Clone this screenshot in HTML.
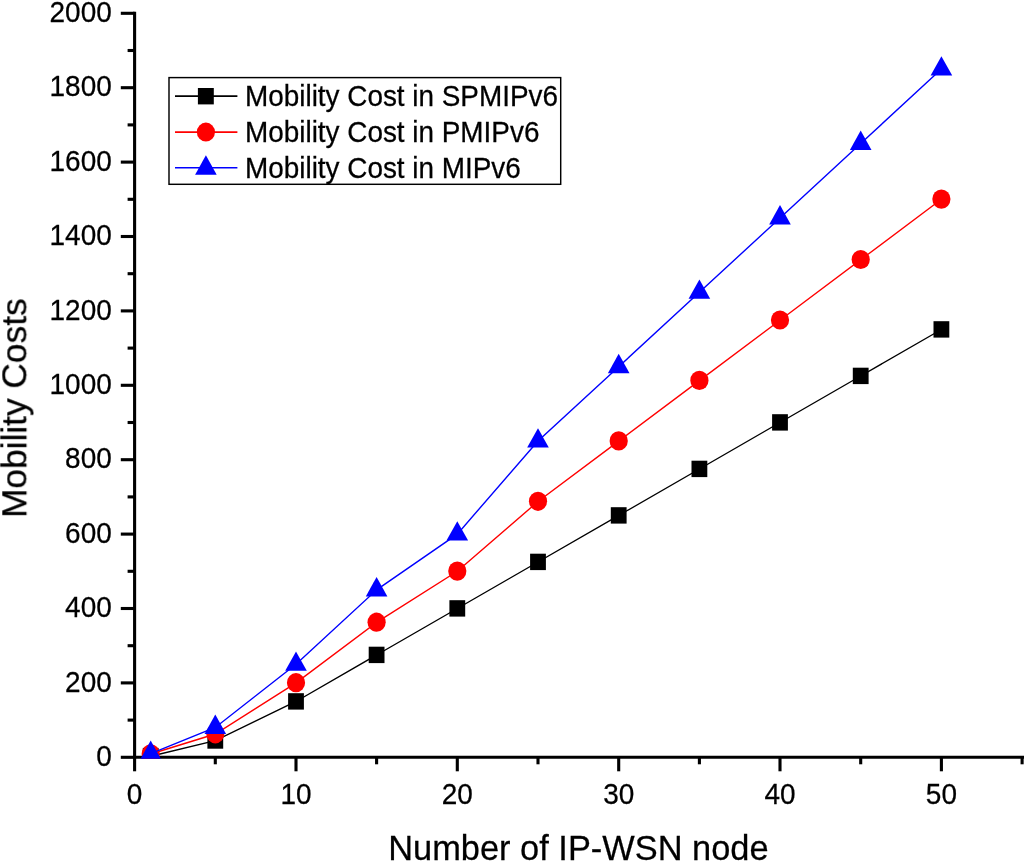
<!DOCTYPE html>
<html lang="en"><head><meta charset="utf-8"><title>Mobility Costs</title>
<style>html,body{margin:0;padding:0;background:#fff;overflow:hidden}svg{display:block}text{font-family:"Liberation Sans",Arial,sans-serif;fill:#000;stroke:#000;stroke-width:0.25px}</style></head><body>
<svg width="1024" height="861" viewBox="0 0 1024 861">
<defs><clipPath id="plot"><rect x="133.05" y="0" width="900" height="758.85"/></clipPath><filter id="soft" x="-2%" y="-2%" width="104%" height="104%"><feGaussianBlur stdDeviation="0.45"/></filter></defs>
<rect width="1024" height="861" fill="#fff"/>
<g filter="url(#soft)">
<g stroke="#000" stroke-width="3.1" fill="none">
<line x1="134.6" y1="11.7" x2="134.6" y2="758.8"/>
<line x1="133.0" y1="757.3" x2="1024" y2="757.3"/>
<line x1="120.8" y1="757.3" x2="134.6" y2="757.3"/>
<line x1="127.6" y1="720.1" x2="134.6" y2="720.1"/>
<line x1="120.8" y1="682.9" x2="134.6" y2="682.9"/>
<line x1="127.6" y1="645.7" x2="134.6" y2="645.7"/>
<line x1="120.8" y1="608.5" x2="134.6" y2="608.5"/>
<line x1="127.6" y1="571.3" x2="134.6" y2="571.3"/>
<line x1="120.8" y1="534.1" x2="134.6" y2="534.1"/>
<line x1="127.6" y1="496.9" x2="134.6" y2="496.9"/>
<line x1="120.8" y1="459.7" x2="134.6" y2="459.7"/>
<line x1="127.6" y1="422.5" x2="134.6" y2="422.5"/>
<line x1="120.8" y1="385.3" x2="134.6" y2="385.3"/>
<line x1="127.6" y1="348.1" x2="134.6" y2="348.1"/>
<line x1="120.8" y1="310.9" x2="134.6" y2="310.9"/>
<line x1="127.6" y1="273.7" x2="134.6" y2="273.7"/>
<line x1="120.8" y1="236.5" x2="134.6" y2="236.5"/>
<line x1="127.6" y1="199.3" x2="134.6" y2="199.3"/>
<line x1="120.8" y1="162.1" x2="134.6" y2="162.1"/>
<line x1="127.6" y1="124.9" x2="134.6" y2="124.9"/>
<line x1="120.8" y1="87.7" x2="134.6" y2="87.7"/>
<line x1="127.6" y1="50.5" x2="134.6" y2="50.5"/>
<line x1="120.8" y1="13.3" x2="134.6" y2="13.3"/>
<line x1="134.6" y1="757.3" x2="134.6" y2="771.3"/>
<line x1="215.3" y1="757.3" x2="215.3" y2="764.3"/>
<line x1="296.0" y1="757.3" x2="296.0" y2="771.3"/>
<line x1="376.6" y1="757.3" x2="376.6" y2="764.3"/>
<line x1="457.3" y1="757.3" x2="457.3" y2="771.3"/>
<line x1="538.0" y1="757.3" x2="538.0" y2="764.3"/>
<line x1="618.7" y1="757.3" x2="618.7" y2="771.3"/>
<line x1="699.4" y1="757.3" x2="699.4" y2="764.3"/>
<line x1="780.0" y1="757.3" x2="780.0" y2="771.3"/>
<line x1="860.7" y1="757.3" x2="860.7" y2="764.3"/>
<line x1="941.4" y1="757.3" x2="941.4" y2="771.3"/>
<line x1="1022.1" y1="757.3" x2="1022.1" y2="764.3"/>
</g>
<g clip-path="url(#plot)">
<polyline points="150.7,756.2 215.3,740.6 296.0,701.5 376.6,655.0 457.3,608.5 538.0,562.0 618.7,515.5 699.4,469.0 780.0,422.5 860.7,376.0 941.4,329.5" fill="none" stroke="#000" stroke-width="1.4"/>
<rect x="142.8" y="747.9" width="15.8" height="16.4" fill="#000"/>
<rect x="207.4" y="732.3" width="15.8" height="16.4" fill="#000"/>
<rect x="288.1" y="693.2" width="15.8" height="16.4" fill="#000"/>
<rect x="368.7" y="646.7" width="15.8" height="16.4" fill="#000"/>
<rect x="449.4" y="600.2" width="15.8" height="16.4" fill="#000"/>
<rect x="530.1" y="553.7" width="15.8" height="16.4" fill="#000"/>
<rect x="610.8" y="507.2" width="15.8" height="16.4" fill="#000"/>
<rect x="691.5" y="460.7" width="15.8" height="16.4" fill="#000"/>
<rect x="772.1" y="414.2" width="15.8" height="16.4" fill="#000"/>
<rect x="852.8" y="367.7" width="15.8" height="16.4" fill="#000"/>
<rect x="933.5" y="321.2" width="15.8" height="16.4" fill="#000"/>
<polyline points="150.7,754.0 215.3,734.0 296.0,682.9 376.6,622.4 457.3,571.3 538.0,501.5 618.7,441.1 699.4,380.6 780.0,320.2 860.7,259.7 941.4,199.3" fill="none" stroke="#f00" stroke-width="1.4"/>
<ellipse cx="150.7" cy="753.8" rx="9.1" ry="9.6" fill="#f00"/>
<ellipse cx="215.3" cy="733.8" rx="9.1" ry="9.6" fill="#f00"/>
<ellipse cx="296.0" cy="682.7" rx="9.1" ry="9.6" fill="#f00"/>
<ellipse cx="376.6" cy="622.2" rx="9.1" ry="9.6" fill="#f00"/>
<ellipse cx="457.3" cy="571.1" rx="9.1" ry="9.6" fill="#f00"/>
<ellipse cx="538.0" cy="501.3" rx="9.1" ry="9.6" fill="#f00"/>
<ellipse cx="618.7" cy="440.9" rx="9.1" ry="9.6" fill="#f00"/>
<ellipse cx="699.4" cy="380.4" rx="9.1" ry="9.6" fill="#f00"/>
<ellipse cx="780.0" cy="320.0" rx="9.1" ry="9.6" fill="#f00"/>
<ellipse cx="860.7" cy="259.5" rx="9.1" ry="9.6" fill="#f00"/>
<ellipse cx="941.4" cy="199.1" rx="9.1" ry="9.6" fill="#f00"/>
<polyline points="150.7,753.6 215.3,727.5 296.0,664.3 376.6,589.9 457.3,534.1 538.0,441.1 618.7,366.7 699.4,292.3 780.0,217.9 860.7,143.5 941.4,69.1" fill="none" stroke="#00f" stroke-width="1.4"/>
<polygon points="150.7,740.6 161.5,760.0 139.9,760.0" fill="#00f"/>
<polygon points="215.3,714.6 226.1,734.0 204.5,734.0" fill="#00f"/>
<polygon points="296.0,651.4 306.8,670.8 285.2,670.8" fill="#00f"/>
<polygon points="376.6,577.0 387.4,596.4 365.8,596.4" fill="#00f"/>
<polygon points="457.3,521.2 468.1,540.6 446.5,540.6" fill="#00f"/>
<polygon points="538.0,428.2 548.8,447.6 527.2,447.6" fill="#00f"/>
<polygon points="618.7,353.8 629.5,373.2 607.9,373.2" fill="#00f"/>
<polygon points="699.4,279.4 710.2,298.8 688.6,298.8" fill="#00f"/>
<polygon points="780.0,205.0 790.8,224.4 769.2,224.4" fill="#00f"/>
<polygon points="860.7,130.6 871.5,150.0 849.9,150.0" fill="#00f"/>
<polygon points="941.4,56.2 952.2,75.6 930.6,75.6" fill="#00f"/>
</g>
<g font-size="28" text-anchor="end">
<text transform="translate(111.8,765.9) scale(1,1.045)">0</text>
<text transform="translate(111.8,691.5) scale(1,1.045)">200</text>
<text transform="translate(111.8,617.1) scale(1,1.045)">400</text>
<text transform="translate(111.8,542.7) scale(1,1.045)">600</text>
<text transform="translate(111.8,468.3) scale(1,1.045)">800</text>
<text transform="translate(111.8,393.9) scale(1,1.045)">1000</text>
<text transform="translate(111.8,319.5) scale(1,1.045)">1200</text>
<text transform="translate(111.8,245.1) scale(1,1.045)">1400</text>
<text transform="translate(111.8,170.7) scale(1,1.045)">1600</text>
<text transform="translate(111.8,96.3) scale(1,1.045)">1800</text>
<text transform="translate(111.8,21.9) scale(1,1.045)">2000</text>
</g>
<g font-size="28" text-anchor="middle">
<text transform="translate(134.6,804.3) scale(1,1.045)">0</text>
<text transform="translate(296.0,804.3) scale(1,1.045)">10</text>
<text transform="translate(457.3,804.3) scale(1,1.045)">20</text>
<text transform="translate(618.7,804.3) scale(1,1.045)">30</text>
<text transform="translate(780.0,804.3) scale(1,1.045)">40</text>
<text transform="translate(941.4,804.3) scale(1,1.045)">50</text>
</g>
<text transform="translate(578.4,859.6) scale(1,1.045)" font-size="34.4" text-anchor="middle">Number of IP-WSN node</text>
<text transform="translate(26.3,408.2) rotate(-90)" font-size="35.3" text-anchor="middle">Mobility Costs</text>
<rect x="169" y="77.6" width="391.7" height="106.7" fill="#fff" stroke="#000" stroke-width="1.45"/>
<line x1="175" y1="96.1" x2="237.4" y2="96.1" stroke="#000" stroke-width="1.6"/>
<text transform="translate(245,106.1) scale(1,1.045)" font-size="27.9">Mobility Cost in SPMIPv6</text>
<line x1="175" y1="132.1" x2="237.4" y2="132.1" stroke="#f00" stroke-width="1.6"/>
<text transform="translate(245,142.1) scale(1,1.045)" font-size="27.9">Mobility Cost in PMIPv6</text>
<line x1="175" y1="167.8" x2="237.4" y2="167.8" stroke="#00f" stroke-width="1.6"/>
<text transform="translate(245,177.8) scale(1,1.045)" font-size="27.9">Mobility Cost in MIPv6</text>
<rect x="197.9" y="88.0" width="15.9" height="16.4" fill="#000"/>
<ellipse cx="205.9" cy="132.1" rx="9.1" ry="9.5" fill="#f00"/>
<polygon points="205.9,155.3 216.7,174.7 195.1,174.7" fill="#00f"/>
</g>
</svg></body></html>
